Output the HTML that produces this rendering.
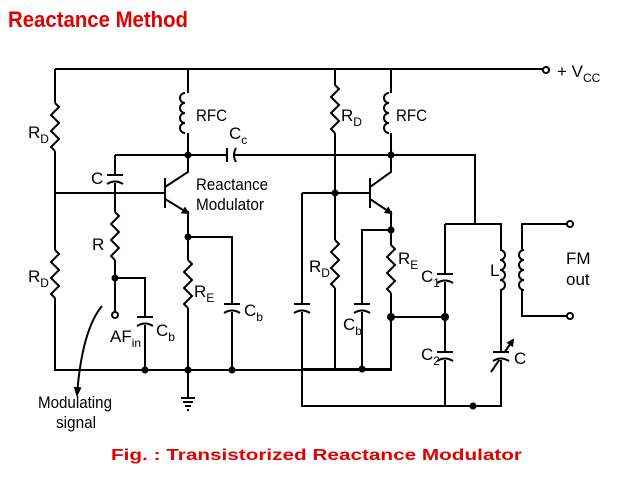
<!DOCTYPE html>
<html><head><meta charset="utf-8"><style>
html,body{margin:0;padding:0;background:#fff;}
svg{display:block;}
text{font-family:"Liberation Sans",sans-serif;}
</style></head><body>
<svg width="638" height="478" viewBox="0 0 638 478" xmlns="http://www.w3.org/2000/svg">
<defs>
<g id="res"><path d="M0,0 L4,4 L-4,12 L4,20 L-4,28 L4,36 L-4,44 L0,48" fill="none" stroke="#000" stroke-width="2"/></g>
<g id="cap"><rect x="-9" y="-4" width="18" height="9" fill="#fff"/><path d="M-8,-3 H8 M-8,6 Q0,1 8,6" fill="none" stroke="#000" stroke-width="2"/></g>
<g id="indL"><rect x="-7" y="0" width="8" height="40" fill="#fff"/><path d="M0,0 a5,5 0 0 1 0,10 a5,5 0 0 1 0,10 a5,5 0 0 1 0,10 a5,5 0 0 1 0,10" transform="scale(-1,1)" fill="none" stroke="#000" stroke-width="2"/></g>
<g id="indR"><rect x="-1" y="0" width="8" height="40" fill="#fff"/><path d="M0,0 a5,5 0 0 1 0,10 a5,5 0 0 1 0,10 a5,5 0 0 1 0,10 a5,5 0 0 1 0,10" fill="none" stroke="#000" stroke-width="2"/></g>
<marker id="ah" markerWidth="8" markerHeight="8" refX="6" refY="4" orient="auto" markerUnits="userSpaceOnUse"><path d="M0,0 L8,4 L0,8 z" fill="#000"/></marker>
<marker id="ah2" markerWidth="10" markerHeight="10" refX="8" refY="5" orient="auto" markerUnits="userSpaceOnUse"><path d="M0,1 L10,5 L0,9 z" fill="#000"/></marker>
</defs>
<text x="8" y="27" font-size="22" font-weight="bold" fill="#e00000" textLength="180" lengthAdjust="spacingAndGlyphs">Reactance Method</text>

<g fill="none" stroke="#000" stroke-width="2">
<path d="M55,69 H543"/>
<circle cx="546" cy="70" r="3" fill="#fff"/>
<path d="M55,69 V103 M55,151 V250 M55,298 V370 H392"/>
<path d="M55,193 H165"/>
<path d="M165,178 V208"/>
<path d="M165,187 L188,172 V155"/>
<path d="M165,199 L188,213" marker-end="url(#ah)"/>
<path d="M188,211 V260 M188,308 V370 M188,370 V398"/>
<path d="M181,398 H195 M183,402 H193 M185,406 H191 M187,410 H189"/>
<path d="M188,69 V93 M188,133 V155"/>
<path d="M115,155 H227 M234,155 H475 V224"/>
<path d="M227,148 V162 M236,148 Q232,155 236,162"/>
<path d="M115,155 V193 V212 M115,260 V278 V312"/>
<circle cx="115" cy="315" r="3" fill="#fff"/>
<path d="M115,278 H145 V370"/>
<path d="M188,237 H232 V370"/>
<path d="M335,69 V85 M335,133 V240 M335,288 V369"/>
<path d="M302,193 H370 M302,193 V406 H473"/>
<path d="M370,178 V208"/>
<path d="M370,187 L391,172 V155"/>
<path d="M370,199 L391,213" marker-end="url(#ah)"/>
<path d="M391,69 V93 M391,133 V155 M391,155 H475"/>
<path d="M391,211 V245 M391,293 V369 H302"/>
<path d="M391,230 H362 V369"/>
<path d="M391,317 H445"/>
<path d="M445,224 H501 V250 M501,290 V406 H445 V224"/>
<path d="M491,372 L513,340" marker-end="url(#ah)"/>
<path d="M567,224 H522 V250 M522,290 V316 H567"/>
<path d="M102,306 Q82,330 77,395" marker-end="url(#ah2)"/>
</g>
<circle cx="570" cy="224" r="3" fill="#fff" stroke="#000" stroke-width="2"/>
<circle cx="570" cy="316" r="3" fill="#fff" stroke="#000" stroke-width="2"/>

<use href="#res" transform="translate(55,103)"/>
<use href="#res" transform="translate(55,250)"/>
<use href="#res" transform="translate(115,212)"/>
<use href="#res" transform="translate(188,260)"/>
<use href="#res" transform="translate(335,85)"/>
<use href="#res" transform="translate(335,240)"/>
<use href="#res" transform="translate(391,245)"/>
<use href="#indL" transform="translate(185,93)"/>
<use href="#indL" transform="translate(389,93)"/>
<use href="#indR" transform="translate(500,250)"/>
<use href="#indL" transform="translate(524,250)"/>
<use href="#cap" transform="translate(115,178)"/>
<use href="#cap" transform="translate(145,320)"/>
<use href="#cap" transform="translate(232,307)"/>
<use href="#cap" transform="translate(302,307)"/>
<use href="#cap" transform="translate(362,307)"/>
<use href="#cap" transform="translate(445,277)"/>
<use href="#cap" transform="translate(445,355)"/>
<use href="#cap" transform="translate(501,355)"/>

<g fill="#000">
<circle cx="188" cy="155" r="3.5"/><circle cx="188" cy="237" r="3.5"/>
<circle cx="115" cy="278" r="3.5"/><circle cx="145" cy="370" r="3.5"/>
<circle cx="188" cy="370" r="3.5"/><circle cx="232" cy="370" r="3.5"/>
<circle cx="335" cy="193" r="3.5"/><circle cx="391" cy="155" r="3.5"/>
<circle cx="391" cy="230" r="3.5"/><circle cx="391" cy="317" r="4"/>
<circle cx="445" cy="317" r="4"/><circle cx="362" cy="369" r="3.5"/>
<circle cx="473" cy="406" r="3.5"/>
</g>

<g font-size="17" fill="#000">
<text x="28" y="138">R<tspan font-size="12" dy="5">D</tspan></text>
<text x="28" y="282">R<tspan font-size="12" dy="5">D</tspan></text>
<text x="196" y="121" textLength="31" lengthAdjust="spacingAndGlyphs">RFC</text>
<text x="229" y="139">C<tspan font-size="12" dy="5">c</tspan></text>
<text x="91" y="184">C</text>
<text x="196" y="190" textLength="72" lengthAdjust="spacingAndGlyphs">Reactance</text>
<text x="196" y="210" textLength="68" lengthAdjust="spacingAndGlyphs">Modulator</text>
<text x="92" y="250">R</text>
<text x="194" y="297">R<tspan font-size="12" dy="5">E</tspan></text>
<text x="244" y="316">C<tspan font-size="12" dy="5">b</tspan></text>
<text x="110" y="342">AF<tspan font-size="12" dy="5">in</tspan></text>
<text x="156" y="336">C<tspan font-size="12" dy="5">b</tspan></text>
<text x="38" y="408" textLength="74" lengthAdjust="spacingAndGlyphs">Modulating</text>
<text x="56" y="428" textLength="40" lengthAdjust="spacingAndGlyphs">signal</text>
<text x="341" y="121">R<tspan font-size="12" dy="5">D</tspan></text>
<text x="396" y="121" textLength="31" lengthAdjust="spacingAndGlyphs">RFC</text>
<text x="309" y="272">R<tspan font-size="12" dy="5">D</tspan></text>
<text x="398" y="264">R<tspan font-size="12" dy="5">E</tspan></text>
<text x="343" y="330">C<tspan font-size="12" dy="5">b</tspan></text>
<text x="421" y="282">C<tspan font-size="12" dy="5">1</tspan></text>
<text x="421" y="360">C<tspan font-size="12" dy="5">2</tspan></text>
<text x="490" y="276">L</text>
<text x="514" y="364">C</text>
<text x="566" y="264">FM</text>
<text x="566" y="285">out</text>
<text x="557" y="77">+ V<tspan font-size="12" dy="5">CC</tspan></text>
</g>
<text x="111" y="460" font-size="16" font-weight="bold" fill="#e00000" textLength="411" lengthAdjust="spacingAndGlyphs">Fig. : Transistorized Reactance Modulator</text>
</svg>
</body></html>
